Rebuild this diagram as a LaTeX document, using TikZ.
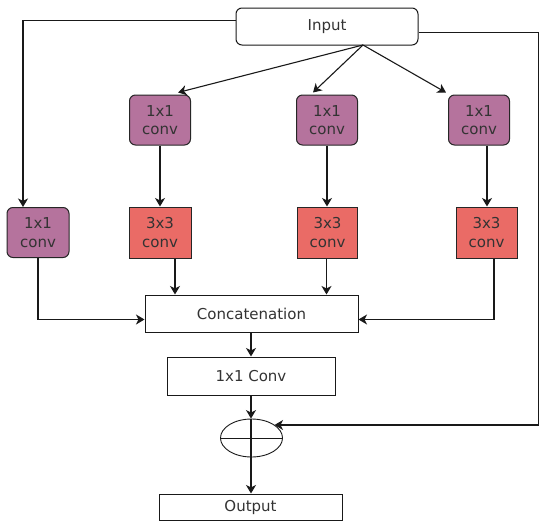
\documentclass[tikz,border=0pt]{standalone}
\usepackage{fontspec}
\setmainfont{DejaVu Sans}
\usetikzlibrary{arrows.meta,calc,shapes.geometric}
\definecolor{purp}{HTML}{B5739D}
\definecolor{redc}{HTML}{EA6B66}
\definecolor{txt}{HTML}{333333}
\begin{document}
\begin{tikzpicture}[x=1pt,y=-1pt,
  font=\fontsize{15}{18.5}\selectfont,
  ln/.style={line width=1.1pt, draw=black!90},
  arr/.style={ln, -{Stealth[length=8.5pt,width=10pt,inset=2.5pt]}},
  conva/.style={draw=black!85, line width=1pt, fill=purp, rounded corners=6pt,
    minimum width=61pt, minimum height=50pt, inner sep=0pt, align=center, text=txt},
  convb/.style={draw=black!85, line width=1pt, fill=redc,
    minimum width=61pt, minimum height=51pt, inner sep=0pt, align=center, text=txt},
  plain/.style={draw=black!90, line width=1pt, fill=white, inner sep=0pt, text=txt}]
\useasboundingbox (0,0) rectangle (550,528);

% nodes
\node[plain, rounded corners=6pt, minimum width=182pt, minimum height=37pt] (inp) at (327,26.5) {Input};
\node[conva] (c1) at (160,120) {1x1\\conv};
\node[conva] (c2) at (327,120) {1x1\\conv};
\node[conva] (c3) at (479,120) {1x1\\conv};
\node[conva, minimum width=62pt] (l1) at (38,232.5) {1x1\\conv};
\node[convb, minimum width=62pt] (t1) at (160,232.5) {3x3\\conv};
\node[convb, minimum width=60pt] (t2) at (327.5,232.5) {3x3\\conv};
\node[convb] (t3) at (486.5,232.5) {3x3\\conv};
\node[plain, minimum width=213pt, minimum height=37pt] (cat) at (251.5,313.5) {Concatenation};
\node[plain, minimum width=168pt, minimum height=38pt] (c11) at (251,376) {1x1 Conv};
\node[draw=black!90, line width=0.9pt, ellipse, minimum width=62pt, minimum height=38pt, inner sep=0pt] (sum) at (251.5,438) {};
\node[plain, minimum width=183pt, minimum height=26pt] (out) at (250.5,507) {Output};

\coordinate (fan) at (363,45);
\path ($(t1.south)+(15,0)$) coordinate (a1);
\path ($(t2.south)+(-1,0)$) coordinate (a2);

% fan from input
\draw[arr] (fan) -- ($(c1.north)+(18,-2)$);
\draw[arr] (fan) -- ($(c2.north)+(-14,-2)$);
\draw[arr] (fan) -- ($(c3.north west)+(-2,-2)$);

% skip lines
\draw[arr] ([yshift=6pt]inp.west) -| ($(l1.north)+(-15,0)$);
\draw[arr] ([yshift=-6pt]inp.east) -- ++(120,0) |- ($(sum.center)+(23,-13)$);

% row 1 to row 2
\draw[arr] (c1.south) -- (t1.north);
\draw[arr] (c2.south) -- (c2.south |- t2.north);
\draw[arr] ($(c3.south)+(8,0)$) -- ($(t3.north)+(0.5,0)$);

% row 2 to concatenation
\draw[arr] (l1.south) |- ($(cat.west)+(0,6)$);
\draw[arr] (a1) -- (a1 |- cat.north);
\draw[arr] (a2) -- (a2 |- cat.north);
\draw[arr] ($(t3.south)+(7.5,0)$) |- ($(cat.east)+(0,6)$);

% lower chain
\draw[arr] (cat.south -| c11.north) -- (c11.north);
\draw[arr] (c11.south) -- (c11.south |- sum.north);
\draw[line width=0.9pt, draw=black!90] (sum.west) -- (sum.east);
\draw[arr] (c11.south |- sum.north) -- (c11.south |- out.north);
\end{tikzpicture}
\end{document}
